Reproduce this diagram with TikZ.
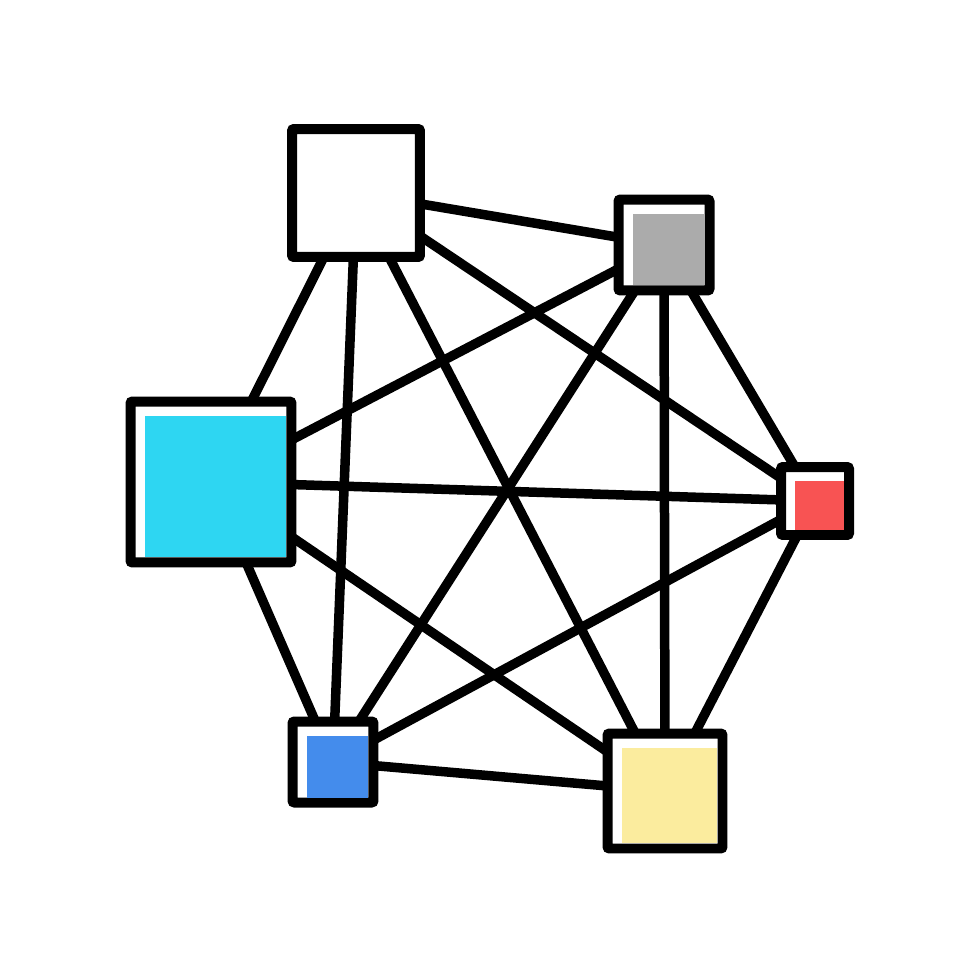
\documentclass[tikz,border=0pt]{standalone}
\usetikzlibrary{calc,backgrounds}

\definecolor{cyanfill}{HTML}{2ED6F2}
\definecolor{grayfill}{HTML}{ABABAB}
\definecolor{redfill}{HTML}{F85353}
\definecolor{bluefill}{HTML}{448CEC}
\definecolor{yellowfill}{HTML}{FBEC9E}

\tikzset{
    box/.style={draw, fill=white, line width=0.2cm, rounded corners=0.04cm,
        inner sep=0pt, outer sep=0pt, minimum size=#1},
    link/.style={line width=0.19cm}
}

\begin{document}
\begin{tikzpicture}[x=0.02cm, y=-0.02cm]

\useasboundingbox (0,0) rectangle (980,980);

% Place the six squares
    \node [box=2.56cm] (top) at (356,193) {};
    \node [box=1.82cm] (gray) at (664,245) {};
    \node [box=3.22cm] (cyan) at (211,482) {};
    \node [box=1.36cm] (red) at (815,501) {};
    \node [box=1.62cm] (blue) at (333,762) {};
    \node [box=2.30cm] (yellow) at (665,791) {};

    % Colour each square, leaving a white strip at top and left
    \foreach \n/\c in {gray/grayfill, cyan/cyanfill, red/redfill, blue/bluefill, yellow/yellowfill} {
        \fill [\c] ($(\n.north west)+(14,14)$) rectangle ($(\n.south east)+(-5,-5)$);
    }

% Connect every square with every other one, behind the squares
\begin{scope}[on background layer]
    \fill [white] (0,0) rectangle (980,980);
    \foreach \a/\b in {top/gray, top/cyan, top/red, top/blue, top/yellow,
                       gray/cyan, gray/red, gray/blue, gray/yellow,
                       cyan/red, cyan/blue, cyan/yellow,
                       red/blue, red/yellow, blue/yellow} {
        \draw [link] (\a.center) -- (\b.center);
    }
\end{scope}

\end{tikzpicture}
\end{document}
